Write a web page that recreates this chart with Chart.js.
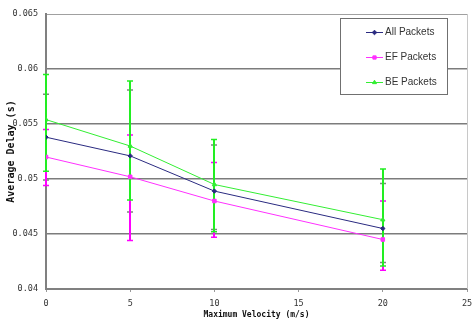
<!DOCTYPE html>
<html>
<head>
<meta charset="utf-8">
<script src="https://cdn.jsdelivr.net/npm/chart.js@4/dist/chart.umd.min.js"></script>
<style>
  html, body { margin: 0; padding: 0; background: #fff; }
  #wrap { position: relative; width: 474px; height: 327px; }
  #legend {
    position: absolute; left: 340px; top: 18px; width: 106px; height: 75px;
    border: 1px solid #707070; background: #fff;
    font-family: "Liberation Sans Narrow", "Liberation Sans", Arial, sans-serif;
    font-size: 10px; color: #333;
  }
  #legend .item { position: absolute; left: 25px; height: 12px; line-height: 12px; white-space: nowrap; }
  #legend canvas { vertical-align: middle; margin-right: 2px; }
</style>
</head>
<body>
<div id="wrap">
  <canvas id="delayChart" width="474" height="327"></canvas>
  <div id="legend"></div>
</div>
<script>
// Velocity (m/s) on x, mean delay (s) per traffic class
const velocity = [0, 5, 10, 20];
const allDelay = [0.0538, 0.0521, 0.0489, 0.0455];
const efDelay = [0.0520, 0.0502, 0.0480, 0.0445];
const beDelay = [0.0554, 0.0530, 0.0495, 0.0463];

// error bar ranges
const allLow = [0.0499, 0.0470, 0.0454, 0.0424];
const allHigh = [0.0577, 0.0581, 0.0531, 0.0496];
const efLow = [0.0494, 0.0444, 0.0447, 0.0417];
const efHigh = [0.0545, 0.0540, 0.0515, 0.0480];
const beLow = [0.0507, 0.0481, 0.0452, 0.0421];
const beHigh = [0.0595, 0.0589, 0.0536, 0.0509];

const yTickLabels = ['0.04', '0.045', '0.05', '0.055', '0.06', '0.065'];
const xTickLabels = ['0', '5', '10', '15', '20', '25'];

const seriesNames = ['All Packets', 'EF Packets', 'BE Packets'];
const seriesColors = ['#2a2a80', '#ff30ff', '#33ee33'];
const barColors = ['#33e833', '#ff00ff', '#22ee22'];
const capColors = ['#7a8a7a', '#ff00ff', '#22ee22'];
const pointShapes = ['rectRot', 'rect', 'triangle'];

const toPoints = (ys) => velocity.map((v, i) => ({ x: v, y: ys[i] }));
const series = [allDelay, efDelay, beDelay];
const lows = [allLow, efLow, beLow];
const highs = [allHigh, efHigh, beHigh];

const errorBars = {
    id: 'errorBars',
    beforeDatasetsDraw(chart) {
        const { ctx, scales: { x, y } } = chart;
        ctx.save();
        for (let s = 0; s < series.length; s++) {
            velocity.forEach((v, i) => {
                const px = Math.round(x.getPixelForValue(v));
                const top = y.getPixelForValue(highs[s][i]);
                const bot = y.getPixelForValue(lows[s][i]);
                ctx.lineWidth = 2;
                ctx.strokeStyle = barColors[s];
                ctx.beginPath();
                ctx.moveTo(px, top); ctx.lineTo(px, bot);
                ctx.stroke();
                ctx.lineWidth = 1.5;
                ctx.strokeStyle = capColors[s];
                ctx.beginPath();
                ctx.moveTo(px - 3, top); ctx.lineTo(px + 3, top);
                ctx.moveTo(px - 3, bot); ctx.lineTo(px + 3, bot);
                ctx.stroke();
            });
        }
        ctx.restore();
    }
};

const tickFont = { family: 'DejaVu Sans Mono', size: 8.5 };

const ctx = document.getElementById('delayChart').getContext('2d');
const chart = new Chart(ctx, {
    type: 'scatter',
    data: {
        datasets: series.map((ys, s) => ({
            label: seriesNames[s],
            data: toPoints(ys),
            showLine: true,
            borderColor: seriesColors[s],
            backgroundColor: seriesColors[s],
            borderWidth: 1,
            pointStyle: pointShapes[s],
            pointRadius: s === 0 ? 2.2 : 2.5,
            pointBorderWidth: 1
        }))
    },
    options: {
        responsive: false,
        animation: false,
        layout: { padding: { left: 5, right: 0, top: 14, bottom: 0 } },
        plugins: { legend: { display: false }, tooltip: { enabled: false } },
        scales: {
            x: {
                type: 'linear', min: 0, max: 25,
                afterFit: (scale) => { scale.height = 38; scale.paddingRight = 7; },
                border: { display: true, color: '#808080', width: 2 },
                grid: { display: true, drawOnChartArea: false, drawTicks: true, tickLength: 3, color: '#999' },
                ticks: {
                    stepSize: 5, padding: 7, color: '#333', font: tickFont,
                    callback: (v) => xTickLabels[v / 5]
                },
                title: {
                    display: true, text: 'Maximum Velocity (m/s)', color: '#111',
                    font: { family: 'DejaVu Sans Mono', size: 8, weight: 'bold' },
                    padding: { top: 0, bottom: 7 }
                }
            },
            y: {
                min: 0.04, max: 0.065,
                afterFit: (scale) => { scale.width = 41; },
                afterBuildTicks: (scale) => {
                    scale.ticks = yTickLabels.map((t) => ({ value: parseFloat(t) }));
                },
                border: { display: true, color: '#808080', width: 2 },
                grid: {
                    drawTicks: false,
                    color: (c) => c.index === yTickLabels.length - 1 ? '#a0a0a0' : (c.index === 0 ? 'rgba(0,0,0,0)' : '#7c7c7c'),
                    lineWidth: (c) => c.index === yTickLabels.length - 1 ? 1 : 1.6
                },
                ticks: {
                    padding: 8, color: '#333', font: tickFont,
                    callback: (v, i) => yTickLabels[i]
                },
                title: {
                    display: true, text: 'Average Delay (s)', color: '#111',
                    font: { family: 'DejaVu Sans Mono', size: 10, weight: 'bold' },
                    padding: { top: 0, bottom: 0 }
                }
            }
        }
    },
    plugins: [errorBars, {
        id: 'rightBorder',
        afterDraw(chart) {
            const { ctx, chartArea: a } = chart;
            ctx.save();
            ctx.strokeStyle = '#c8c8c8';
            ctx.lineWidth = 1;
            ctx.beginPath();
            ctx.moveTo(a.right + 0.5, a.top);
            ctx.lineTo(a.right + 0.5, a.bottom);
            ctx.stroke();
            ctx.restore();
        }
    }]
});

// legend box inside the plot
const legend = document.getElementById('legend');
seriesNames.forEach((name, s) => {
    const item = document.createElement('div');
    item.className = 'item';
    item.style.top = (7 + s * 25) + 'px';
    const icon = document.createElement('canvas');
    icon.width = 17; icon.height = 9;
    const g = icon.getContext('2d');
    g.strokeStyle = seriesColors[s]; g.fillStyle = seriesColors[s]; g.lineWidth = 1;
    g.beginPath(); g.moveTo(0, 4.5); g.lineTo(17, 4.5); g.stroke();
    Chart.helpers.drawPoint(g, { pointStyle: pointShapes[s], radius: 2.3, borderWidth: 1 }, 8.5, 4.5);
    item.appendChild(icon);
    item.appendChild(document.createTextNode(name));
    legend.appendChild(item);
});
</script>
</body>
</html>
